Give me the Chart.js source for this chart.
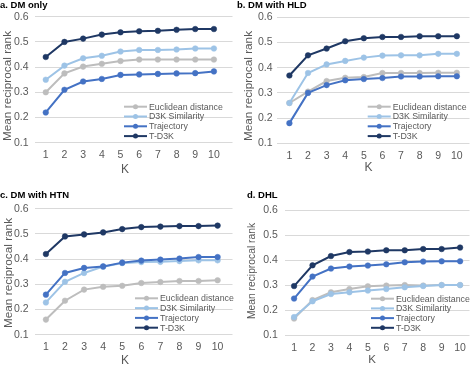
<!DOCTYPE html>
<html>
<head>
<meta charset="utf-8">
<script src="https://cdn.jsdelivr.net/npm/chart.js@4/dist/chart.umd.min.js"></script>
<style>
  html, body { margin: 0; padding: 0; background: #fff; }
  #wrap { position: relative; width: 474px; height: 365px; background: #fff; overflow: hidden; }
  canvas { position: absolute; }
</style>
</head>
<body>
<div id="wrap">
  <canvas id="pa" width="237" height="182" style="left:0;top:0"></canvas>
  <canvas id="pb" width="237" height="182" style="left:237px;top:0"></canvas>
  <canvas id="pc" width="237" height="183" style="left:0;top:182px"></canvas>
  <canvas id="pd" width="237" height="183" style="left:237px;top:182px"></canvas>
</div>
<script>
// ---------- DATA ----------
const K = [1, 2, 3, 4, 5, 6, 7, 8, 9, 10];
const seriesNames = ['Euclidean distance', 'D3K Similarity', 'Trajectory', 'T-D3K'];
const yTicks = [0.1, 0.2, 0.3, 0.4, 0.5, 0.6];
const panelTitles = ['a. DM only', 'b. DM with HLD', 'c. DM with HTN', 'd. DHL'];
const xTitle = 'K';
const yTitle = 'Mean reciprocal rank';

// a. DM only
const aEuclid = [0.300, 0.375, 0.402, 0.413, 0.424, 0.430, 0.430, 0.430, 0.430, 0.430];
const aD3K    = [0.350, 0.406, 0.435, 0.445, 0.462, 0.468, 0.468, 0.470, 0.474, 0.474];
const aTraj   = [0.220, 0.310, 0.343, 0.353, 0.369, 0.371, 0.373, 0.375, 0.376, 0.383];
const aTD3K   = [0.440, 0.500, 0.513, 0.529, 0.538, 0.542, 0.544, 0.548, 0.551, 0.551];

// b. DM with HLD
const bEuclid = [0.260, 0.305, 0.347, 0.360, 0.363, 0.379, 0.379, 0.379, 0.380, 0.380];
const bD3K    = [0.260, 0.379, 0.413, 0.427, 0.440, 0.448, 0.449, 0.449, 0.455, 0.455];
const bTraj   = [0.180, 0.300, 0.331, 0.350, 0.355, 0.359, 0.365, 0.365, 0.366, 0.366];
const bTD3K   = [0.369, 0.449, 0.476, 0.505, 0.517, 0.522, 0.522, 0.525, 0.525, 0.525];

// c. DM with HTN
const cEuclid = [0.160, 0.235, 0.279, 0.290, 0.294, 0.305, 0.309, 0.313, 0.313, 0.316];
const cD3K    = [0.228, 0.310, 0.345, 0.370, 0.384, 0.388, 0.389, 0.392, 0.395, 0.395];
const cTraj   = [0.259, 0.345, 0.365, 0.371, 0.386, 0.394, 0.398, 0.402, 0.408, 0.408];
const cTD3K   = [0.420, 0.490, 0.498, 0.506, 0.519, 0.527, 0.529, 0.531, 0.531, 0.533];

// d. DHL
const dEuclid = [0.167, 0.241, 0.272, 0.285, 0.296, 0.299, 0.301, 0.299, 0.301, 0.301];
const dD3K    = [0.173, 0.236, 0.265, 0.272, 0.279, 0.285, 0.292, 0.297, 0.301, 0.301];
const dTraj   = [0.247, 0.335, 0.367, 0.375, 0.379, 0.384, 0.392, 0.395, 0.396, 0.396];
const dTD3K   = [0.297, 0.380, 0.417, 0.433, 0.435, 0.440, 0.440, 0.445, 0.445, 0.451];

// ---------- STYLE ----------
const seriesColors = ['#BDBDBD', '#9DC3E6', '#4472C4', '#1F3864'];
const FONT = "'Liberation Sans', Arial, sans-serif";
const TXT = '#595959';

// layout per panel (pixels in each panel canvas)
const layouts = [
  { W: 237, H: 182, left: 35, right: 237, top: 16.7, bottom: 142.7, xmin: 0.424, xmax: 10.994, yPad: 6.5, xPad: 6.5,
    titleX: 0, titleY: 5, yTX: 7.5, yTY: 86, yTS: 11.8, kX: 125, kY: 170, kS: 12,
    legX: 124, legY: 106.7, legRow: 9.8 },
  { W: 237, H: 182, left: 40, right: 237, top: 17.3, bottom: 143.3, xmin: 0.333, xmax: 10.68, yPad: 4.5, xPad: 6.5,
    titleX: 0, titleY: 5, yTX: 11.5, yTY: 86, yTS: 11.8, kX: 131.5, kY: 168, kS: 12,
    legX: 130.7, legY: 106.7, legRow: 9.8 },
  { W: 237, H: 183, left: 35, right: 234, top: 26.7, bottom: 152.7, xmin: 0.428, xmax: 10.78, yPad: 6.5, xPad: 6.5,
    titleX: 0, titleY: 13, yTX: 8.3, yTY: 91, yTS: 11.8, kX: 125, kY: 179, kS: 12,
    legX: 135, legY: 116.3, legRow: 9.8 },
  { W: 237, H: 183, left: 48.3, right: 237, top: 28.3, bottom: 153.3, xmin: 0.524, xmax: 10.51, yPad: 7.5, xPad: 6.5,
    titleX: 10, titleY: 13.5, yTX: 15, yTY: 89, yTS: 10.3, kX: 135, kY: 178, kS: 11.5,
    legX: 134, legY: 116.7, legRow: 9.7 }
];

const panelData = [
  [aEuclid, aD3K, aTraj, aTD3K],
  [bEuclid, bD3K, bTraj, bTD3K],
  [cEuclid, cD3K, cTraj, cTD3K],
  [dEuclid, dD3K, dTraj, dTD3K]
];

// plugin: panel title, axis titles, in-plot legend
const deco = {
  id: 'deco',
  afterDraw(chart, args, o) {
    const ctx = chart.ctx;
    ctx.save();
    // panel title
    ctx.fillStyle = '#000';
    ctx.font = "bold 9.5px " + FONT;
    ctx.textAlign = 'left';
    ctx.textBaseline = 'middle';
    ctx.fillText(o.title, o.titleX, o.titleY);
    // y title
    ctx.fillStyle = TXT;
    ctx.font = o.yTS + "px " + FONT;
    ctx.save();
    ctx.translate(o.yTX, o.yTY);
    ctx.rotate(-Math.PI / 2);
    ctx.textAlign = 'center';
    ctx.fillText(yTitle, 0, 0);
    ctx.restore();
    // x title
    ctx.font = o.kS + "px " + FONT;
    ctx.textAlign = 'center';
    ctx.fillText(xTitle, o.kX, o.kY);
    // legend
    ctx.font = "8.8px " + FONT;
    ctx.textAlign = 'left';
    chart.data.datasets.forEach((ds, i) => {
      const y = o.legY + i * o.legRow;
      ctx.strokeStyle = ds.borderColor;
      ctx.lineWidth = 2;
      ctx.beginPath();
      ctx.moveTo(o.legX, y);
      ctx.lineTo(o.legX + 23, y);
      ctx.stroke();
      ctx.fillStyle = ds.borderColor;
      ctx.beginPath();
      ctx.arc(o.legX + 11.5, y, 2.5, 0, Math.PI * 2);
      ctx.fill();
      ctx.fillStyle = TXT;
      ctx.fillText(ds.label, o.legX + 25, y + 0.5);
    });
    ctx.restore();
  }
};

['pa', 'pb', 'pc', 'pd'].forEach((id, p) => {
  const L = layouts[p];
  const datasets = seriesNames.map((name, i) => ({
    label: name,
    data: K.map((k, j) => ({ x: k, y: panelData[p][i][j] })),
    borderColor: seriesColors[i],
    backgroundColor: seriesColors[i],
    pointBackgroundColor: seriesColors[i],
    pointBorderColor: seriesColors[i],
    borderWidth: 2,
    pointRadius: 2.8,
    pointBorderWidth: 0.5,
    order: 4 - i,
    tension: 0
  }));
  new Chart(document.getElementById(id), {
    type: 'line',
    data: { datasets },
    options: {
      responsive: false,
      animation: false,
      events: [],
      layout: { padding: { left: 0, top: L.top, right: L.W - L.right, bottom: 0 } },
      plugins: {
        legend: { display: false },
        tooltip: { enabled: false },
        title: { display: false },
        deco: Object.assign({ title: panelTitles[p] }, L)
      },
      scales: {
        x: {
          type: 'linear',
          min: L.xmin,
          max: L.xmax,
          afterBuildTicks: s => { s.ticks = K.map(k => ({ value: k })); },
          afterFit: s => { s.height = L.H - L.bottom; },
          grid: { display: false, drawTicks: false },
          border: { display: false },
          ticks: { color: TXT, font: { family: FONT, size: 10.5 }, padding: L.xPad, maxRotation: 0, autoSkip: false }
        },
        y: {
          type: 'linear',
          min: 0.1,
          max: 0.6,
          afterBuildTicks: s => { s.ticks = yTicks.map(v => ({ value: v })); },
          afterFit: s => { s.width = L.left; },
          grid: { color: '#D9D9D9', lineWidth: 1, drawTicks: false },
          border: { display: false },
          ticks: { color: TXT, font: { family: FONT, size: 10.5 }, padding: L.yPad, callback: v => v.toFixed(1) }
        }
      }
    },
    plugins: [deco]
  });
});
</script>
</body>
</html>
